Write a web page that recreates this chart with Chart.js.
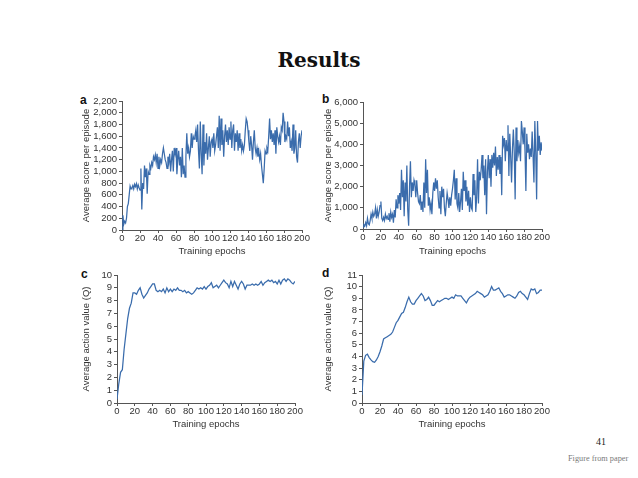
<!DOCTYPE html>
<html>
<head>
<meta charset="utf-8">
<script src="https://cdn.jsdelivr.net/npm/chart.js@4.4.1/dist/chart.umd.min.js"></script>
<style>
  html, body { margin:0; padding:0; background:#fff; }
  body { width:638px; height:478px; position:relative; overflow:hidden; }
  canvas { position:absolute; }
  .t { position:absolute; white-space:nowrap; }
  #title { left:0; width:638px; top:50px; text-align:center; font-family:"DejaVu Serif", serif; font-weight:bold; font-size:20px; line-height:20px; color:#111; }
  .lbl { font-family:"Liberation Sans", Arial, sans-serif; font-weight:bold; font-size:12px; line-height:12px; color:#111; }
  #pg { left:596px; top:437px; font-family:"Liberation Serif", serif; font-size:10px; line-height:10px; color:#222; }
  #src { left:568px; top:453px; font-family:"Liberation Serif", serif; font-size:9px; line-height:10px; color:#7a7a7a; transform:scaleX(0.92); transform-origin:left top; }
</style>
</head>
<body>
<div id="title" class="t">Results</div>
<div class="t lbl" style="left:80px;top:94px;">a</div>
<div class="t lbl" style="left:322px;top:93px;">b</div>
<div class="t lbl" style="left:81px;top:268px;">c</div>
<div class="t lbl" style="left:322px;top:267px;">d</div>
<div id="pg" class="t">41</div>
<div id="src" class="t">Figure from paper</div>

<canvas id="ca" width="235" height="171" style="left:77px;top:90px;"></canvas>
<canvas id="cb" width="233" height="171" style="left:319px;top:90px;"></canvas>
<canvas id="cc" width="228" height="172" style="left:77px;top:262px;"></canvas>
<canvas id="cd" width="233" height="172" style="left:319px;top:262px;"></canvas>

<script>
// ---- Data ----
const xTickLabels = [0,20,40,60,80,100,120,140,160,180,200];

// panel a: average score per episode (per epoch 0..200)
const scoreA = [0,250,100,150,120,200,400,450,600,750,
 700,720,760,700,780,740,790,700,770,720,
 680,1050,350,800,700,1100,900,1050,620,1000,
 950,1100,1050,1150,1100,1250,1200,1280,1150,1300,
 1050,1250,1100,1200,1150,1300,1400,1300,1200,1150,
 1050,1250,1150,1300,1000,1200,1350,1000,1400,1300,
 1400,950,1200,1350,1100,1250,900,1400,950,1100,
 900,1250,1650,1300,1400,1250,1350,1650,1400,1600,
 1550,1600,1700,1500,1800,1350,1050,1850,1300,950,
 1800,1100,1500,1300,1650,1200,1400,1600,1250,1500,
 1550,1400,1650,1350,1450,1600,1750,1400,1950,1350,
 1900,1450,1700,1250,1600,1800,1500,1700,1450,1750,
 1550,1850,1400,1700,1800,1350,1650,1500,1700,1350,
 1650,1400,1550,1350,1450,1350,1450,1700,1900,1850,
 1700,1500,1350,1600,1450,1200,1500,1700,1400,1300,
 1400,1250,1350,1200,1300,1100,950,800,1050,1350,
 1300,1400,1350,1600,1900,1550,1700,1500,1650,1450,
 1700,1300,1750,1600,1500,1600,1450,1750,1700,2000,
 1850,1500,1600,1550,1850,1600,1750,1400,1500,1350,
 1800,1300,1400,1700,1250,1150,1500,1650,1400,1600,
 1700];

// panel b: average score per episode (per epoch 0..200)
const scoreB = [100,200,150,300,150,500,250,200,400,700,
 500,800,600,700,1000,500,900,600,800,1100,
 1300,500,400,550,400,700,500,600,450,750,
 350,800,550,700,300,900,550,1400,1000,1600,
 1200,1700,900,2800,1500,2300,600,2200,1300,3000,
 900,150,2000,3200,1500,2200,1800,2300,2100,1500,
 2300,1700,1300,1200,1600,900,1300,800,2200,1000,
 3300,1700,2800,1100,1500,900,1200,700,1700,2200,
 1800,2400,1900,2300,1500,1000,1800,700,2000,1500,
 1900,1000,600,1200,1700,1400,1000,1500,1100,1600,
 1900,2300,2800,1400,2400,1200,1000,1700,800,1300,
 1900,900,2700,1800,2300,1300,2000,1100,1800,800,
 1500,1000,900,2600,1600,2300,800,1500,3300,1200,
 2700,2300,2800,3500,2400,3000,1600,3300,700,2700,
 3500,2400,3300,2000,3500,2900,3600,3000,3900,2500,
 3400,2800,3500,2600,3400,1600,4400,4000,4300,3200,
 4200,3700,4900,2500,4500,3400,2200,3800,4700,3600,
 1400,4800,3200,4200,3600,3900,3200,5100,4600,4000,
 4800,3700,1800,4500,3600,4000,3300,3800,3400,4600,
 3500,2200,5100,3600,1400,5100,3700,4400,3500,4100,
 3700];

// panel c: average action value Q (every 2 epochs, 0..200)
const qC = [0.3,1.5,2.4,2.6,4.2,5.4,6.6,7.4,7.8,8.6,
 8.6,8.5,8.8,9.0,8.5,8.2,8.4,8.6,8.9,9.1,
 9.3,9.3,8.8,8.7,8.8,8.7,8.9,8.6,9.0,8.7,
 8.9,8.7,8.9,8.8,9.0,8.8,8.8,8.7,8.8,8.6,
 8.7,8.6,8.5,8.6,8.8,9.0,8.9,9.0,8.9,9.1,
 8.9,9.1,9.2,9.4,9.0,9.1,9.2,9.0,9.2,9.4,
 9.6,9.4,9.3,9.0,9.5,9.1,9.5,9.2,8.9,9.3,
 9.5,9.3,8.9,9.2,9.2,9.2,9.3,9.2,9.3,9.2,
 9.3,9.5,9.2,9.4,9.5,9.6,9.5,9.6,9.4,9.5,
 9.3,9.6,9.3,9.6,9.7,9.5,9.7,9.6,9.4,9.3,
 9.5];

// panel d: average action value Q (every 2 epochs, 0..200)
const qD = [0.7,3.6,4.1,4.2,3.9,3.7,3.55,3.5,3.7,4.0,
 4.4,4.9,5.5,5.6,5.7,5.8,5.9,6.1,6.5,6.9,
 7.1,7.4,7.7,7.8,8.2,8.7,9.1,8.7,8.5,8.5,
 8.8,9.0,9.2,9.4,9.2,8.8,8.9,9.1,8.8,8.4,
 8.4,8.6,8.8,8.7,8.8,8.9,9.0,9.0,8.9,9.0,
 9.1,9.0,9.3,9.2,9.2,9.2,9.0,8.8,8.6,8.9,
 9.1,9.2,9.3,9.4,9.6,9.5,9.4,9.3,9.1,9.2,
 9.3,9.6,10.0,9.7,9.7,9.8,9.9,9.6,9.4,9.1,
 9.2,9.3,9.3,9.2,9.1,9.0,9.2,9.5,9.6,9.4,
 9.3,9.1,8.9,9.4,9.8,9.7,9.8,9.4,9.5,9.7,
 9.7];

const epochs1 = scoreA.map((_, i) => i);      // epoch index for per-epoch series
const epochs2 = qC.map((_, i) => i * 2);      // epoch index for every-2-epoch series

// ---- Styling ----
const LINE = 'rgb(58,108,172)';
const AXIS = '#555';
const TXT = '#333';
const FONT = '"Liberation Sans", Arial, Helvetica, sans-serif';

function makeChart(id, xs, ys, yMax, yStep, yTitle, yWidth, xHeight, padTop) {
  const pts = xs.map((x, i) => ({x: x, y: ys[i]}));
  return new Chart(document.getElementById(id), {
    type: 'line',
    data: { datasets: [{ data: pts, borderColor: LINE, borderWidth: 1.25, pointRadius: 0, tension: 0, fill: false }] },
    options: {
      responsive: false, animation: false, devicePixelRatio: 1,
      layout: { padding: { top: padTop, right: 10, left: 0, bottom: 0 } },
      plugins: { legend: { display: false }, tooltip: { enabled: false } },
      scales: {
        x: {
          type: 'linear', min: 0, max: 200,
          afterBuildTicks: s => { s.ticks = xTickLabels.map(v => ({value: v})); },
          ticks: { autoSkip: false, maxRotation: 0, padding: 0, color: TXT, font: { family: FONT, size: 9.5 } },
          grid: { drawOnChartArea: false, drawTicks: true, tickLength: 3, color: AXIS },
          border: { display: true, color: AXIS, width: 1 },
          title: { display: true, text: 'Training epochs', color: TXT, font: { family: FONT, size: 9.5 }, padding: { top: 4, bottom: 4 } },
          afterFit: s => { s.height = xHeight; }
        },
        y: {
          type: 'linear', min: 0, max: yMax,
          ticks: { stepSize: yStep, autoSkip: false, padding: 2, color: TXT, font: { family: FONT, size: 9.5 } },
          grid: { drawOnChartArea: false, drawTicks: true, tickLength: 3, color: AXIS },
          border: { display: true, color: AXIS, width: 1 },
          title: { display: true, text: yTitle, color: TXT, font: { family: FONT, size: 9.5 }, padding: { top: 4, bottom: 4 } },
          afterFit: s => { s.width = yWidth; }
        }
      }
    }
  });
}

makeChart('ca', epochs1, scoreA, 2200, 200, 'Average score per episode', 45, 31, 11);
makeChart('cb', epochs1, scoreB, 6000, 1000, 'Average score per episode', 44, 32, 12);
makeChart('cc', epochs2, qC, 10, 1, 'Average action value (Q)', 40, 31, 13);
makeChart('cd', epochs2, qD, 11, 1, 'Average action value (Q)', 43, 31, 13);
</script>
</body>
</html>
